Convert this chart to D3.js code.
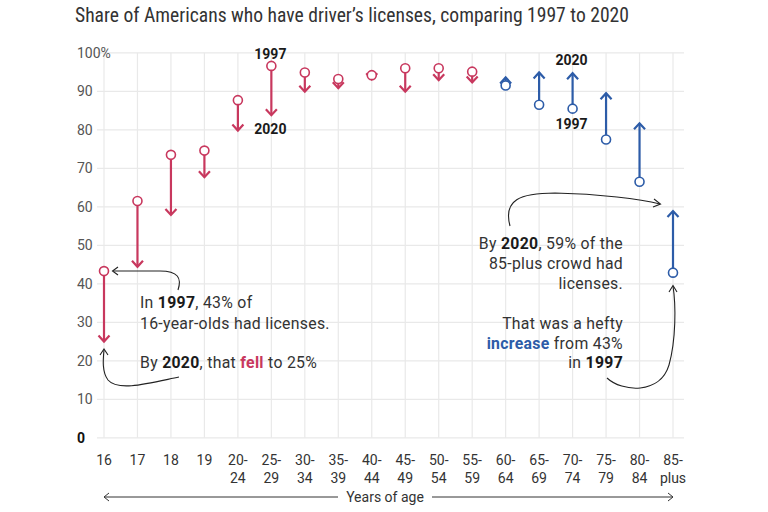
<!DOCTYPE html>
<html><head><meta charset="utf-8">
<script src="https://cdn.jsdelivr.net/npm/d3@7"></script>
<style>body{margin:0;background:#fff}svg{display:block}</style>
</head><body>
<svg id="c" width="768" height="512"></svg>
<script>
const categories = ["16","17","18","19","20-24","25-29","30-34","35-39","40-44","45-49","50-54","55-59","60-64","65-69","70-74","75-79","80-84","85-plus"];
const values1997 = [43.3,61.5,73.5,74.6,87.7,96.6,94.9,93.2,94.2,96,96,95.1,91.5,86.5,85.5,77.5,66.5,42.9];
const values2020 = [25,44.4,57.9,67.7,79.8,83.8,89.9,90.8,93.1,89.9,92.9,92.3,93.6,94.9,94.7,89.5,81.7,58.9];
const yTicks = [0,10,20,30,40,50,60,70,80,90,100];
const yTickLabels = ["0","10","20","30","40","50","60","70","80","90","100%"];

const RED = "#c8385e", BLUE = "#2d5ca8", TXT = "#333";
const FONT = "'Roboto','Open Sans',sans-serif";
const svg = d3.select("#c");

const x = d3.scalePoint().domain(categories).range([104, 673]);
const y = d3.scaleLinear().domain([0, 100]).range([437.8, 52.8]);

// title
svg.append("text").attr("x", 75).attr("y", 22)
  .attr("font-family", "'Liberation Sans Narrow','Roboto Condensed',sans-serif")
  .attr("font-size", 19.6).attr("fill", TXT)
  .text("Share of Americans who have driver\u2019s licenses, comparing 1997 to 2020");

// grid
const g = svg.append("g");
g.selectAll(".hg").data(yTicks).join("line")
  .attr("x1", 97).attr("x2", 684)
  .attr("y1", d => y(d)).attr("y2", d => y(d))
  .attr("stroke", "#e9e9e9").attr("stroke-width", 1.2);
g.selectAll(".vg").data(categories).join("line")
  .attr("x1", d => x(d)).attr("x2", d => x(d))
  .attr("y1", y(100)).attr("y2", y(0))
  .attr("stroke", "#e9e9e9").attr("stroke-width", 1.2);

// y labels
svg.selectAll(".yl").data(yTicks).join("text")
  .attr("x", 77).attr("y", d => y(d) + 5)
  .attr("font-family", FONT).attr("font-size", 14)
  .attr("font-weight", d => d === 0 ? 700 : 400)
  .attr("fill", d => d === 0 ? "#111" : "#555")
  .text((d, i) => yTickLabels[i]);

// x labels
categories.forEach(c => {
  const parts = c.includes("-") ? [c.split("-")[0] + "-", c.split("-")[1]] : [c];
  const t = svg.append("text").attr("x", x(c)).attr("text-anchor", "middle")
    .attr("font-family", FONT).attr("font-size", 14).attr("fill", TXT);
  parts.forEach((p, i) => t.append("tspan").attr("x", x(c)).attr("y", 465 + i * 18).text(p));
});

// years of age axis
const ya = svg.append("g").attr("stroke", TXT).attr("stroke-width", 1).attr("fill", "none");
ya.append("line").attr("x1", x("16")).attr("x2", 338).attr("y1", 497).attr("y2", 497);
ya.append("line").attr("x1", 432).attr("x2", x("85-plus")).attr("y1", 497).attr("y2", 497);
ya.append("path").attr("d", `M${x("16")+5},493 L${x("16")},497 L${x("16")+5},501`);
ya.append("path").attr("d", `M${x("85-plus")-5},493 L${x("85-plus")},497 L${x("85-plus")-5},501`);
svg.append("text").attr("x", 385).attr("y", 502).attr("text-anchor", "middle")
  .attr("font-family", FONT).attr("font-size", 14).attr("fill", TXT).text("Years of age");

// arrows
const data = categories.map((c, i) => ({c, a: values1997[i], b: values2020[i]}));
const ag = svg.append("g");
data.forEach(d => {
  const col = d.b < d.a ? RED : BLUE;
  const cx = x(d.c), y1 = y(d.a), y2 = y(d.b);
  const dir = y2 > y1 ? 1 : -1;
  ag.append("line").attr("x1", cx).attr("x2", cx).attr("y1", y1).attr("y2", y2)
    .attr("stroke", col).attr("stroke-width", 2.2);
  ag.append("path").attr("d", `M${cx-5.5},${y2 - dir*6} L${cx},${y2} L${cx+5.5},${y2 - dir*6}`)
    .attr("fill", "none").attr("stroke", col).attr("stroke-width", 2.2)
    .attr("stroke-linejoin", "miter");
  ag.append("circle").attr("cx", cx).attr("cy", y1).attr("r", 4.5)
    .attr("fill", "#fff").attr("stroke", col).attr("stroke-width", 1.6);
});

// year labels
function bold(t, xx, yy) {
  svg.append("text").attr("x", xx).attr("y", yy).attr("text-anchor", "middle")
    .attr("font-family", FONT).attr("font-size", 14).attr("font-weight", 700)
    .attr("fill", "#1a1a1a").text(t);
}
bold("1997", x("25-29") - 1, 59);
bold("2020", x("25-29") - 1, 134);
bold("2020", x("70-74") - 1, 65);
bold("1997", x("70-74") - 1, 129);

// annotations
function note(lines, xx, anchor) {
  lines.forEach(l => {
    const t = svg.append("text").attr("x", xx).attr("y", l.y).attr("text-anchor", anchor)
      .attr("font-family", FONT).attr("font-size", 15.8).attr("letter-spacing", 0.3)
      .attr("fill", TXT);
    l.parts.forEach(p => {
      const s = t.append("tspan").text(p.t);
      if (p.b) s.attr("font-weight", 700).attr("fill", p.c || "#1a1a1a");
    });
  });
}
note([
  {y: 308, parts: [{t: "In "}, {t: "1997", b: 1}, {t: ", 43% of"}]},
  {y: 329, parts: [{t: "16-year-olds had licenses."}]},
  {y: 368, parts: [{t: "By "}, {t: "2020", b: 1}, {t: ", that "}, {t: "fell", b: 1, c: RED}, {t: " to 25%"}]}
], 140, "start");
note([
  {y: 249, parts: [{t: "By "}, {t: "2020", b: 1}, {t: ", 59% of the"}]},
  {y: 269, parts: [{t: "85-plus crowd had"}]},
  {y: 289, parts: [{t: "licenses."}]},
  {y: 329, parts: [{t: "That was a hefty"}]},
  {y: 349, parts: [{t: "increase", b: 1, c: BLUE}, {t: " from 43%"}]},
  {y: 368, parts: [{t: "in "}, {t: "1997", b: 1}]}
], 623, "end");

// curved pointer arrows
const cg = svg.append("g").attr("fill", "none").attr("stroke", "#222").attr("stroke-width", 1.1);
cg.append("path").attr("d", "M178,290 C182,278 178,271 160,271 L113,271");
cg.append("path").attr("d", "M118,267 L112.5,271 L118,275");
cg.append("path").attr("d", "M179,377 C150,383 118,392 108,380 C102,372 103,360 104,350");
cg.append("path").attr("d", "M100,355 L104,349 L108,355");
cg.append("path").attr("d", "M510,226 C503,200 520,193 555,193 C600,194 640,199 660,204");
cg.append("path").attr("d", "M654,199 L660.5,204 L653,207");
cg.append("path").attr("d", "M607,378 C622,392 660,395 669,365 C676,340 676,305 673,286");
cg.append("path").attr("d", "M669,292 L673,285.5 L677,292");
</script>
</body></html>
